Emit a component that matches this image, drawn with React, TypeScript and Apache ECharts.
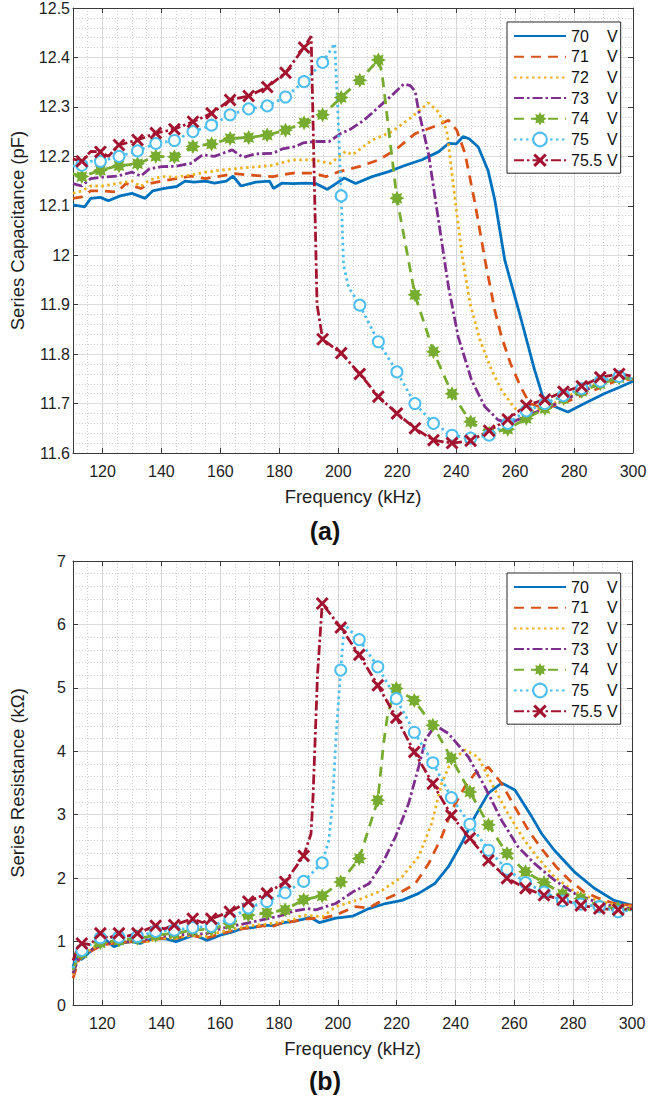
import React, { useEffect, useRef } from "react";
import * as echarts from "echarts";

const NAMES = ["70 V", "71 V", "72 V", "73 V", "74 V", "75 V", "75.5 V"];
const COLORS = ["#0072BD", "#D95319", "#EDB120", "#7E2F8E", "#77AC30", "#4DBEEE", "#A2142F"];
const FREQ_TICKS = [120, 140, 160, 180, 200, 220, 240, 260, 280, 300];
const MARKER_F = [113, 119.3, 125.6, 131.9, 138.1, 144.4, 150.7, 157, 163.3, 169.6, 175.9, 182.1, 188.4, 194.7, 201, 207.3, 213.6, 219.9, 226, 232.3, 238.6, 244.9, 251.2, 257.5, 263.8, 270.1, 276.4, 282.6, 288.9, 295.3];

// ---- (a) Series capacitance (pF) ----
const cap70 = [[110, 12.102], [114, 12.098], [116, 12.115], [119.3, 12.117], [122, 12.11], [126, 12.12], [130, 12.125], [134.5, 12.115], [137, 12.13], [141, 12.135], [145.2, 12.139], [148, 12.15], [151, 12.148], [155, 12.15], [158, 12.146], [162, 12.15], [164.3, 12.16], [167, 12.14], [172, 12.148], [176.7, 12.15], [178, 12.135], [181, 12.146], [184.5, 12.145], [189, 12.146], [192.4, 12.145], [196.3, 12.133], [202, 12.156], [205.9, 12.145], [211.5, 12.159], [217.1, 12.169], [222.8, 12.182], [228.4, 12.193], [234, 12.209], [237.4, 12.226], [240, 12.225], [242.4, 12.24], [244.5, 12.235], [247.5, 12.219], [250.8, 12.172], [253.1, 12.112], [256.5, 11.99], [262.1, 11.869], [266.6, 11.768], [269.4, 11.714], [273.4, 11.694], [277.9, 11.683], [283.5, 11.7], [290.2, 11.72], [295.8, 11.734], [300, 11.745]];
const cap71 = [[110, 12.115], [113, 12.118], [116, 12.13], [120, 12.13], [125, 12.128], [128, 12.145], [133, 12.135], [136, 12.145], [140, 12.15], [145, 12.155], [150, 12.16], [155, 12.155], [160, 12.16], [165, 12.165], [170, 12.162], [177.8, 12.159], [184.5, 12.166], [191.3, 12.166], [195.8, 12.159], [200.3, 12.169], [207, 12.179], [213.8, 12.193], [219.4, 12.213], [226.1, 12.246], [232.9, 12.261], [237.4, 12.273], [240.2, 12.253], [243, 12.206], [246.4, 12.105], [249.8, 11.99], [253.1, 11.889], [255.4, 11.835], [258.5, 11.78], [262.1, 11.731], [265, 11.7], [270, 11.69], [276, 11.7], [282, 11.715], [288, 11.73], [294, 11.745], [300, 11.75]];
const cap72 = [[110, 12.125], [113, 12.13], [116, 12.14], [120, 12.14], [125, 12.145], [130, 12.15], [133, 12.139], [136, 12.152], [140, 12.159], [145, 12.158], [150, 12.162], [155, 12.168], [160, 12.172], [165, 12.175], [170, 12.178], [175, 12.18], [177.8, 12.182], [184.5, 12.193], [191.3, 12.193], [197.4, 12.186], [202.5, 12.21], [204.8, 12.203], [211.5, 12.233], [218.3, 12.25], [225, 12.28], [230.6, 12.308], [234, 12.29], [236.8, 12.253], [239.1, 12.139], [241.9, 12.004], [244.7, 11.903], [248.1, 11.828], [252, 11.768], [255.4, 11.727], [259.9, 11.69], [265, 11.683], [270, 11.69], [276, 11.71], [282, 11.725], [288, 11.74], [294, 11.75], [300, 11.75]];
const cap73 = [[110, 12.145], [113, 12.14], [116, 12.155], [120, 12.158], [125, 12.16], [130, 12.168], [133, 12.16], [136, 12.175], [140, 12.179], [145, 12.18], [150, 12.186], [154, 12.203], [158, 12.2], [164, 12.213], [167.7, 12.198], [172, 12.205], [177.8, 12.206], [181, 12.215], [185.6, 12.22], [188, 12.227], [191.9, 12.23], [196.9, 12.23], [200.8, 12.246], [204.2, 12.255], [208.7, 12.273], [213.8, 12.3], [218.3, 12.324], [222.2, 12.346], [224.5, 12.343], [226.1, 12.331], [227.2, 12.294], [230.6, 12.206], [234, 12.071], [237.4, 11.936], [240.7, 11.835], [245.2, 11.748], [249.7, 11.694], [254.2, 11.667], [258, 11.66], [264, 11.675], [270, 11.69], [276, 11.705], [282, 11.722], [288, 11.738], [294, 11.752], [300, 11.75]];
const cap74 = [[110, 12.165], [113, 12.159], [119.3, 12.172], [125.6, 12.181], [131.9, 12.185], [138.1, 12.2], [144.4, 12.199], [150.7, 12.22], [157, 12.225], [163.3, 12.236], [169.6, 12.238], [175.9, 12.243], [182.1, 12.253], [188.4, 12.268], [194.7, 12.284], [201, 12.319], [207.3, 12.354], [213.6, 12.395], [214.8, 12.37], [219.9, 12.115], [226, 11.92], [232.3, 11.805], [238.6, 11.72], [244.9, 11.663], [251.2, 11.64], [257.5, 11.648], [263.8, 11.67], [270.1, 11.69], [276.4, 11.71], [282.6, 11.725], [288.9, 11.74], [295.3, 11.752], [300, 11.75]];
const cap75 = [[110, 12.18], [113, 12.182], [116, 12.19], [119.3, 12.19], [125.6, 12.2], [131.9, 12.211], [138.1, 12.226], [144.4, 12.232], [150.7, 12.25], [157, 12.263], [163.3, 12.284], [169.6, 12.296], [175.9, 12.302], [182.1, 12.32], [188.4, 12.351], [194.7, 12.39], [198.8, 12.428], [199.8, 12.3], [201, 12.12], [201.8, 11.98], [203.5, 11.935], [207.3, 11.899], [213.6, 11.825], [219.9, 11.764], [226, 11.7], [232.3, 11.66], [238.6, 11.636], [244.9, 11.63], [251.2, 11.636], [257.5, 11.66], [263.8, 11.685], [270.1, 11.7], [276.4, 11.716], [282.6, 11.73], [288.9, 11.745], [295.3, 11.755], [300, 11.75]];
const cap755 = [[110, 12.195], [113, 12.19], [116, 12.21], [119.3, 12.209], [122, 12.2], [125.6, 12.223], [131.9, 12.233], [138.1, 12.247], [144.4, 12.255], [150.7, 12.27], [157, 12.287], [163.3, 12.314], [169.6, 12.322], [175.9, 12.34], [182.1, 12.369], [188.4, 12.42], [190.8, 12.443], [192.8, 11.9], [194.7, 11.83], [201, 11.802], [207.3, 11.76], [213.6, 11.714], [219.9, 11.68], [226, 11.65], [232.3, 11.626], [238.6, 11.62], [244.9, 11.625], [251.2, 11.645], [257.5, 11.668], [263.8, 11.696], [270.1, 11.708], [276.4, 11.724], [282.6, 11.735], [288.9, 11.753], [295.3, 11.76], [300, 11.755]];

// ---- (b) Series resistance (kOhm) ----
const res70 = [[110, 0.6], [111, 0.75], [113, 0.72], [116, 0.85], [120.5, 1.05], [123.9, 0.92], [127, 0.98], [130, 1.0], [132.9, 0.97], [135, 1.02], [138.4, 1.05], [142, 1.04], [145, 1.0], [148, 1.05], [151, 1.1], [153, 1.07], [155.4, 1.02], [158, 1.06], [160, 1.1], [164, 1.15], [167.8, 1.21], [171, 1.22], [175, 1.26], [178, 1.25], [181.7, 1.3], [185, 1.32], [188, 1.35], [190.7, 1.38], [193.7, 1.3], [199.3, 1.37], [205, 1.4], [210.6, 1.52], [216.2, 1.6], [221.8, 1.65], [227.5, 1.76], [233.1, 1.92], [237.6, 2.18], [242.1, 2.55], [246.6, 2.97], [251.2, 3.34], [255.7, 3.5], [260.2, 3.39], [265.9, 2.97], [269.3, 2.7], [273.6, 2.44], [280.4, 2.1], [287.2, 1.84], [293.9, 1.65], [300, 1.57]];
const res71 = [[110, 0.42], [112, 0.72], [115, 0.82], [120, 0.95], [125, 0.98], [130, 1.0], [135, 1.0], [140, 1.05], [145, 1.05], [150, 1.1], [155, 1.05], [160, 1.12], [165, 1.18], [170, 1.22], [175, 1.25], [177, 1.22], [180, 1.28], [185, 1.32], [190, 1.36], [195, 1.37], [199.3, 1.42], [206, 1.55], [210.6, 1.53], [215.1, 1.65], [220.7, 1.76], [226.3, 1.91], [230.9, 2.23], [235.3, 2.65], [238.7, 3.07], [243.2, 3.44], [246.6, 3.65], [251.2, 3.75], [255.7, 3.49], [260.2, 3.12], [265.1, 2.73], [269.5, 2.45], [274.2, 2.18], [278.7, 1.97], [283.8, 1.78], [288.8, 1.68], [294, 1.6], [300, 1.57]];
const res72 = [[110, 0.48], [112, 0.78], [115, 0.85], [120, 0.98], [125, 0.98], [130, 1.0], [135, 1.0], [140, 1.05], [145, 1.06], [150, 1.1], [155, 1.08], [160, 1.15], [165, 1.2], [170, 1.25], [175, 1.27], [180, 1.3], [185, 1.35], [188, 1.42], [194.8, 1.39], [199.3, 1.55], [208.4, 1.68], [215.1, 1.81], [221.8, 2.02], [227.5, 2.34], [231.9, 2.86], [235.3, 3.49], [238.7, 3.86], [243.2, 4.02], [247.7, 3.91], [252.3, 3.49], [257.8, 3.02], [263.4, 2.6], [268, 2.32], [273.6, 2.02], [280.4, 1.79], [288.3, 1.65], [294, 1.58], [300, 1.55]];
const res73 = [[110, 0.5], [112, 0.75], [115, 0.85], [120, 0.95], [125, 1.0], [130, 1.0], [135, 1.03], [140, 1.08], [145, 1.1], [150, 1.12], [155, 1.12], [160, 1.2], [165, 1.25], [170, 1.3], [175, 1.35], [180, 1.4], [185, 1.48], [189.7, 1.52], [192.5, 1.5], [199.3, 1.6], [205, 1.78], [210.6, 1.91], [215.1, 2.23], [219.6, 2.65], [224.1, 3.18], [227.5, 3.76], [229.8, 4.18], [233.1, 4.41], [237.6, 4.28], [244.4, 3.91], [250, 3.44], [255.7, 2.91], [261.3, 2.49], [266.9, 2.23], [273.6, 1.97], [280.4, 1.76], [288, 1.62], [294, 1.55], [300, 1.52]];
const res74 = [[110, 0.55], [112, 0.8], [113, 0.82], [119.3, 0.98], [125.6, 1.02], [131.9, 1.05], [138.1, 1.1], [144.4, 1.13], [150.7, 1.18], [157, 1.2], [163.3, 1.28], [169.6, 1.42], [175.9, 1.45], [182.1, 1.5], [188.4, 1.66], [194.7, 1.72], [201, 1.94], [207.3, 2.31], [213.6, 3.23], [215.5, 4.1], [217, 4.6], [219.9, 4.99], [226, 4.8], [232.3, 4.41], [238.6, 3.89], [244.9, 3.36], [251.2, 2.84], [257.5, 2.39], [263.8, 2.1], [270.1, 1.93], [276.4, 1.75], [282.6, 1.68], [288.9, 1.56], [295.3, 1.52], [300, 1.5]];
const res75 = [[110, 0.58], [112, 0.85], [113, 0.86], [119.3, 1.06], [125.6, 1.07], [131.9, 1.08], [138.1, 1.16], [144.4, 1.18], [150.7, 1.22], [157, 1.24], [163.3, 1.36], [169.6, 1.53], [175.9, 1.63], [182.1, 1.77], [188.4, 1.95], [194.7, 2.24], [197, 2.6], [198.2, 3.18], [199.5, 4.3], [201, 5.28], [202.2, 6.0], [207.3, 5.76], [213.6, 5.33], [219.9, 4.83], [226, 4.3], [232.3, 3.82], [238.6, 3.27], [244.9, 2.85], [251.2, 2.44], [257.5, 2.14], [263.8, 1.93], [270.1, 1.78], [276.4, 1.64], [282.6, 1.59], [288.9, 1.55], [295.3, 1.47], [300, 1.5]];
const res755 = [[110, 0.7], [112, 0.95], [113, 0.97], [116, 0.95], [119.3, 1.13], [122, 1.05], [125.6, 1.13], [128, 1.08], [131.9, 1.13], [138.1, 1.25], [141, 1.2], [144.4, 1.26], [150.7, 1.36], [154, 1.3], [157, 1.36], [163.3, 1.47], [169.6, 1.63], [175.9, 1.76], [182.1, 1.94], [188.4, 2.35], [190.9, 2.7], [191.6, 3.3], [193.1, 5.2], [194.7, 6.33], [201, 5.95], [207.3, 5.52], [213.6, 5.04], [219.9, 4.53], [226, 3.99], [232.3, 3.49], [238.6, 2.99], [244.9, 2.63], [251.2, 2.28], [257.5, 2.0], [263.8, 1.84], [270.1, 1.73], [276.4, 1.66], [282.6, 1.57], [288.9, 1.52], [295.3, 1.5], [300, 1.52]];

const CAP = [cap70, cap71, cap72, cap73, cap74, cap75, cap755];
const RES = [res70, res71, res72, res73, res74, res75, res755];

const FONT = "'Liberation Sans', Arial, Helvetica, sans-serif";
const ASTERISK = "path://M10,5L7.8,6.16L8.54,8.54L6.16,7.8L5,10L3.84,7.8L1.46,8.54L2.2,6.16L0,5L2.2,3.84L1.46,1.46L3.84,2.2L5,0L6.16,2.2L8.54,1.46L7.8,3.84Z";
const XMARK = "path://M1.6,0L5,3.4L8.4,0L10,1.6L6.6,5L10,8.4L8.4,10L5,6.6L1.6,10L0,8.4L3.4,5L0,1.6Z";

const STYLES: any[] = [
  { dash: "solid", symbol: "none", size: 0 },
  { dash: [10, 7], symbol: "none", size: 0 },
  { dash: [2.5, 3.5], symbol: "none", size: 0 },
  { dash: [10, 3, 2.5, 3], symbol: "none", size: 0 },
  { dash: [10, 7], symbol: ASTERISK, size: 15 },
  { dash: [2.5, 3.5], symbol: "emptyCircle", size: 11 },
  { dash: [10, 3, 2.5, 3], symbol: XMARK, size: 13 },
];

const isMarker = (f: number) => MARKER_F.some((m) => Math.abs(m - f) < 0.05);

function buildSeries(sets: number[][][], xi: number, yi: number) {
  return sets.map((data, i) => {
    const st = STYLES[i];
    const hasMarkers = st.symbol !== "none";
    return {
      type: "line",
      name: NAMES[i],
      xAxisIndex: xi,
      yAxisIndex: yi,
      showSymbol: hasMarkers,
      symbol: st.symbol,
      symbolSize: st.size,
      symbolKeepAspect: true,
      color: COLORS[i],
      lineStyle: { width: 2.8, type: st.dash, color: COLORS[i] },
      itemStyle: { color: COLORS[i], borderWidth: st.symbol === "emptyCircle" ? 2.8 : 0 },
      emphasis: { disabled: true },
      data: data.map(([f, v]) => (hasMarkers && isMarker(f) ? [f, v] : { value: [f, v], symbol: "none" })),
    };
  });
}

function legendFor(top: number) {
  return {
    orient: "vertical",
    left: 507,
    top,
    padding: [6, 3, 5, 6],
    itemWidth: 52,
    itemHeight: 17,
    itemGap: 4.7,
    backgroundColor: "#fff",
    borderColor: "#262626",
    borderWidth: 1,
    selectedMode: false,
    formatter: (name: string) => `{a|${name.split(" ")[0]}}{b|V}`,
    textStyle: {
      fontFamily: FONT,
      fontSize: 16,
      color: "#111",
      rich: {
        a: { width: 36, fontSize: 16, fontFamily: FONT, color: "#111", lineHeight: 17 },
        b: { fontSize: 16, fontFamily: FONT, color: "#111", lineHeight: 17 },
      },
    },
    data: NAMES.map((n, i) =>
      STYLES[i].symbol === "none" ? { name: n, itemStyle: { opacity: 0 } } : { name: n }
    ),
  };
}

const AXIS_COLOR = "#3a3a3a";
const LABEL_COLOR = "#1e1e1e";

function xAxes(grid: number) {
  const common = { type: "value", gridIndex: grid, min: 110, max: 300 };
  return [
    {
      ...common,
      position: "bottom",
      interval: 10,
      name: "Frequency (kHz)",
      nameLocation: "middle",
      nameGap: 34,
      nameTextStyle: { fontFamily: FONT, fontSize: 18.5, color: LABEL_COLOR },
      axisLine: { show: true, onZero: false, lineStyle: { color: AXIS_COLOR, width: 1 } },
      axisTick: { show: true, inside: true, length: 5, customValues: FREQ_TICKS, lineStyle: { color: AXIS_COLOR } },
      axisLabel: { show: true, customValues: FREQ_TICKS, margin: 10, fontFamily: FONT, fontSize: 16, color: LABEL_COLOR },
      splitLine: { show: true, lineStyle: { color: "#dcdcdc", width: 1 } },
    },
    {
      ...common,
      position: "top",
      interval: 10,
      axisLine: { show: true, onZero: false, lineStyle: { color: AXIS_COLOR, width: 1 } },
      axisTick: { show: true, inside: true, length: 5, customValues: FREQ_TICKS, lineStyle: { color: AXIS_COLOR } },
      axisLabel: { show: false },
      splitLine: { show: false },
    },
    {
      ...common,
      position: "bottom",
      interval: 5,
      axisLine: { show: false },
      axisTick: { show: false },
      axisLabel: { show: false },
      splitLine: { show: true, lineStyle: { color: "#cfcfcf", width: 1, type: [1, 2] } },
    },
  ];
}

function yAxes(grid: number, min: number, max: number, interval: number, name: string, margin: number) {
  return [
    {
      type: "value",
      gridIndex: grid,
      position: "left",
      min,
      max,
      interval,
      name,
      nameLocation: "middle",
      nameGap: 46,
      nameTextStyle: { fontFamily: FONT, fontSize: 18.5, color: LABEL_COLOR },
      axisLine: { show: true, onZero: false, lineStyle: { color: AXIS_COLOR, width: 1 } },
      axisTick: { show: true, inside: true, length: 5, lineStyle: { color: AXIS_COLOR } },
      axisLabel: { margin, fontFamily: FONT, fontSize: 16, color: LABEL_COLOR },
      splitLine: { show: true, lineStyle: { color: "#dcdcdc", width: 1 } },
      minorTick: { show: false, splitNumber: 5 },
      minorSplitLine: { show: true, lineStyle: { color: "#cfcfcf", width: 1, type: [1, 2] } },
    },
    {
      type: "value",
      gridIndex: grid,
      position: "right",
      min,
      max,
      interval,
      axisLine: { show: true, onZero: false, lineStyle: { color: AXIS_COLOR, width: 1 } },
      axisTick: { show: true, inside: true, length: 5, lineStyle: { color: AXIS_COLOR } },
      axisLabel: { show: false },
      splitLine: { show: false },
    },
  ];
}

export default function App() {
  const ref = useRef<HTMLDivElement>(null);
  useEffect(() => {
    if (!ref.current) return;
    const chart = echarts.init(ref.current, null, { renderer: "svg" });
    const option: any = {
      animation: false,
      backgroundColor: "#fff",
      title: [
        { text: "(a)", left: "center", top: 518, padding: 0, textStyle: { fontFamily: FONT, fontWeight: "bold", fontSize: 25, color: "#111" } },
        { text: "(b)", left: "center", top: 1068, padding: 0, textStyle: { fontFamily: FONT, fontWeight: "bold", fontSize: 25, color: "#111" } },
      ],
      grid: [
        { left: 69, top: 8, width: 564, height: 445 },
        { left: 69, top: 561, width: 563, height: 444 },
      ],
      legend: [legendFor(22), legendFor(573)],
      xAxis: [...xAxes(0), ...xAxes(1)],
      yAxis: [
        ...yAxes(0, 11.6, 12.5, 0.1, "Series Capacitance (pF)", 3),
        ...yAxes(1, 0, 7, 1, "Series Resistance (k\u03A9)", 7),
      ],
      series: [...buildSeries(CAP, 0, 0), ...buildSeries(RES, 3, 2)],
    };
    chart.setOption(option);
    return () => chart.dispose();
  }, []);
  return (
    <div
      ref={ref}
      style={{ position: "fixed", left: 0, top: 0, width: 650, height: 1106, background: "#fff" }}
    />
  );
}
